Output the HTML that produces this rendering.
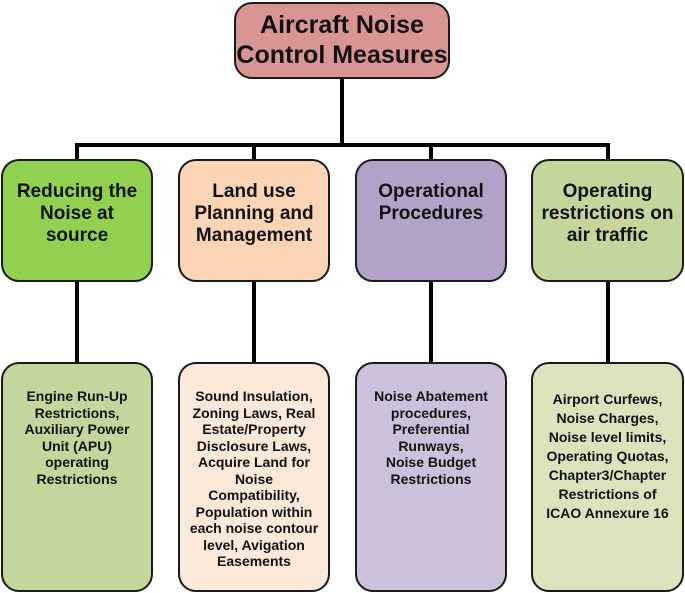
<!DOCTYPE html>
<html><head><style>
body{margin:0;width:685px;height:593px;background:#fff;position:relative;overflow:hidden;font-family:"Liberation Sans Narrow","Liberation Sans",sans-serif;font-weight:bold;color:#111}
.b{position:absolute;border:2px solid #1a1a1a;border-radius:18px;box-sizing:border-box;text-align:center}
.l{position:absolute;background:#000}
.h{font-size:19px;line-height:22px;display:flex;align-items:center;justify-content:center;padding-bottom:14px}
.s{font-size:14px;line-height:16.5px;padding-top:24px}
</style></head><body>
<div class="l" style="left:340px;top:77px;width:4px;height:70px"></div>
<div class="l" style="left:75px;top:143px;width:535px;height:4px"></div>
<div class="l" style="left:75px;top:143px;width:4px;height:18px"></div>
<div class="l" style="left:252px;top:143px;width:4px;height:18px"></div>
<div class="l" style="left:429px;top:143px;width:4px;height:18px"></div>
<div class="l" style="left:606px;top:143px;width:4px;height:18px"></div>
<div class="l" style="left:75px;top:280px;width:4px;height:84px"></div>
<div class="l" style="left:252px;top:280px;width:4px;height:84px"></div>
<div class="l" style="left:429px;top:280px;width:4px;height:84px"></div>
<div class="l" style="left:606px;top:280px;width:4px;height:84px"></div>

<div class="b" style="left:234px;top:2px;width:216px;height:77px;background:#d99594;font-size:25px;line-height:30px;padding-top:6px">Aircraft Noise<br>Control Measures</div>

<div class="b h" style="left:1px;top:159px;width:152px;height:123px;background:#92d050">Reducing the<br>Noise at<br>source</div>
<div class="b h" style="left:178px;top:159px;width:152px;height:123px;background:#fbd5b5">Land use<br>Planning and<br>Management</div>
<div class="b h" style="left:355px;top:159px;width:152px;height:123px;background:#b2a2c7;padding-bottom:36px">Operational<br>Procedures</div>
<div class="b h" style="left:531px;top:159px;width:153px;height:123px;background:#c3d69b">Operating<br>restrictions on<br>air traffic</div>

<div class="b s" style="left:1px;top:362px;width:152px;height:230px;background:#c3d69b">Engine Run-Up<br>Restrictions,<br>Auxiliary Power<br>Unit (APU)<br>operating<br>Restrictions</div>
<div class="b s" style="left:178px;top:362px;width:152px;height:230px;background:#fde9d9">Sound Insulation,<br>Zoning Laws, Real<br>Estate/Property<br>Disclosure Laws,<br>Acquire Land for<br>Noise<br>Compatibility,<br>Population within<br>each noise contour<br>level, Avigation<br>Easements</div>
<div class="b s" style="left:355px;top:362px;width:152px;height:230px;background:#ccc0da">Noise Abatement<br>procedures,<br>Preferential<br>Runways,<br>Noise Budget<br>Restrictions</div>
<div class="b s" style="left:531px;top:362px;width:153px;height:230px;background:#d7e4bc;line-height:19px;padding-top:26px">Airport Curfews,<br>Noise Charges,<br>Noise level limits,<br>Operating Quotas,<br>Chapter3/Chapter<br>Restrictions of<br>ICAO Annexure 16</div>
</body></html>
